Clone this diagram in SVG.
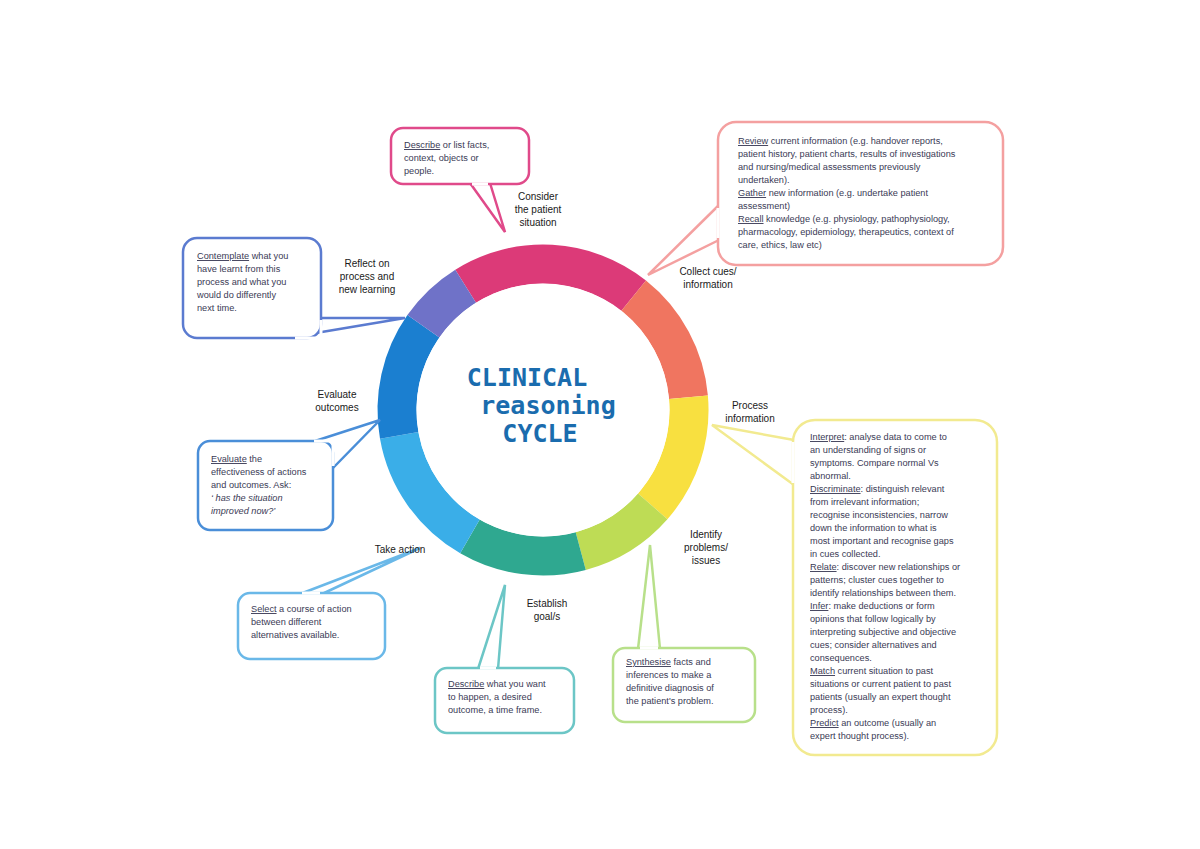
<svg xmlns="http://www.w3.org/2000/svg" width="1200" height="849" viewBox="0 0 1200 849">
<style>
.b{font-family:"Liberation Sans",Arial,sans-serif;font-size:9.2px;fill:#3a3a55}
.l{font-family:"Liberation Sans",Arial,sans-serif;font-size:10px;fill:#1a1a1a;text-anchor:middle}
.u{text-decoration:underline}
.box{fill:#fff;stroke-width:2.5}
.t{font-family:"DejaVu Sans Mono","Liberation Mono",monospace;font-size:25px;fill:#1a6cae;text-anchor:middle;font-weight:bold}
</style>
<rect width="1200" height="849" fill="#fff"/>
<g id="ring" transform="translate(543,410)">
<path d="M-87.7,-140.3 A165.5,165.5 0 0 1 103,-129.5 L78.2,-99 A126.5,126.5 0 0 0 -67,-107.3Z" fill="#dc3a78"/>
<path d="M103,-129.5 A165.5,165.5 0 0 1 164.9,-14.4 L126,-11 A126.5,126.5 0 0 0 78.2,-99Z" fill="#f07560"/>
<path d="M164.9,-14.4 A165.5,165.5 0 0 1 124.4,109.2 L95,83.4 A126.5,126.5 0 0 0 126,-11Z" fill="#f8e040"/>
<path d="M124.4,109.2 A165.5,165.5 0 0 1 42.8,159.9 L32.7,122.2 A126.5,126.5 0 0 0 95,83.4Z" fill="#bedc55"/>
<path d="M42.8,159.9 A165.5,165.5 0 0 1 -82.8,143.3 L-63.3,109.5 A126.5,126.5 0 0 0 32.7,122.2Z" fill="#2fa890"/>
<path d="M-82.8,143.3 A165.5,165.5 0 0 1 -163,28.7 L-124.6,22 A126.5,126.5 0 0 0 -63.3,109.5Z" fill="#3aaee8"/>
<path d="M-163,28.7 A165.5,165.5 0 0 1 -135.6,-94.9 L-103.6,-72.6 A126.5,126.5 0 0 0 -124.6,22Z" fill="#1b7fd0"/>
<path d="M-135.6,-94.9 A165.5,165.5 0 0 1 -87.7,-140.3 L-67,-107.3 A126.5,126.5 0 0 0 -103.6,-72.6Z" fill="#6f72c8"/>
<circle r="126.5" fill="#fff"/>
</g>
<g id="title">
<text class="t" x="527" y="386">CLINICAL</text>
<text class="t" x="548" y="414">reasoning</text>
<text class="t" x="540" y="442">CYCLE</text>
</g>
<g id="connectors" fill="#fff" stroke-width="2.5">
<path d="M470,183 L505,232 L490,183" stroke="#e04a8a"/>
<path d="M719,205 L648,275 L719,240" stroke="#f4a0a0"/>
<path d="M794,440 L712,425 L794,485" stroke="#f2ea90"/>
<path d="M638,649 L650,545 L660,649" stroke="#b8e08a"/>
<path d="M478,669 L505,585 L498,669" stroke="#6cc6c6"/>
<path d="M300,594 L420,548 L322,594" stroke="#6ab8e8"/>
<path d="M312,442 L380,420 L333,468" stroke="#4a8ed8"/>
<path d="M292,337 L405,318 L320,318" stroke="#5b7bd0"/>
</g>
<g id="n1"><rect class="box" x="391" y="128" width="138" height="56" rx="12" stroke="#e04a8a"/><line x1="472" y1="184" x2="488" y2="184" stroke="#fff" stroke-width="3"/>
<text class="b" x="404" y="148"><tspan class="u">Describe</tspan> or list facts,</text><text class="b" x="404" y="161">context, objects or</text><text class="b" x="404" y="174">people.</text>
<text class="l" x="538" y="200">Consider</text><text class="l" x="538" y="213">the patient</text><text class="l" x="538" y="226">situation</text></g>
<g id="n2"><rect class="box" x="718" y="122" width="285" height="143" rx="18" stroke="#f4a0a0"/><line x1="718" y1="208" x2="718" y2="238" stroke="#fff" stroke-width="3"/>
<text class="b" x="738" y="144"><tspan class="u">Review</tspan> current information (e.g. handover reports,</text>
<text class="b" x="738" y="157">patient history, patient charts, results of investigations</text>
<text class="b" x="738" y="170">and nursing/medical assessments previously</text>
<text class="b" x="738" y="183">undertaken).</text>
<text class="b" x="738" y="196"><tspan class="u">Gather</tspan> new information (e.g. undertake patient</text>
<text class="b" x="738" y="209">assessment)</text>
<text class="b" x="738" y="222"><tspan class="u">Recall</tspan> knowledge (e.g. physiology, pathophysiology,</text>
<text class="b" x="738" y="235">pharmacology, epidemiology, therapeutics, context of</text>
<text class="b" x="738" y="248">care, ethics, law etc)</text>
<text class="l" x="708" y="275">Collect cues/</text><text class="l" x="708" y="288">information</text></g>
<g id="n3"><rect class="box" x="793" y="420" width="204" height="335" rx="22" stroke="#f2ea90"/><line x1="793" y1="442" x2="793" y2="483" stroke="#fff" stroke-width="3"/>
<text class="l" x="750" y="409">Process</text><text class="l" x="750" y="422">information</text>
<g class="b"><text x="810" y="440"><tspan class="u">Interpret</tspan>: analyse data to come to</text>
<text x="810" y="453">an understanding of signs or</text>
<text x="810" y="466">symptoms. Compare normal Vs</text>
<text x="810" y="479">abnormal.</text>
<text x="810" y="492"><tspan class="u">Discriminate</tspan>: distinguish relevant</text>
<text x="810" y="505">from irrelevant information;</text>
<text x="810" y="518">recognise inconsistencies, narrow</text>
<text x="810" y="531">down the information to what is</text>
<text x="810" y="544">most important and recognise gaps</text>
<text x="810" y="557">in cues collected.</text>
<text x="810" y="570"><tspan class="u">Relate</tspan>: discover new relationships or</text>
<text x="810" y="583">patterns; cluster cues together to</text>
<text x="810" y="596">identify relationships between them.</text>
<text x="810" y="609"><tspan class="u">Infer</tspan>: make deductions or form</text>
<text x="810" y="622">opinions that follow logically by</text>
<text x="810" y="635">interpreting subjective and objective</text>
<text x="810" y="648">cues; consider alternatives and</text>
<text x="810" y="661">consequences.</text>
<text x="810" y="674"><tspan class="u">Match</tspan> current situation to past</text>
<text x="810" y="687">situations or current patient to past</text>
<text x="810" y="700">patients (usually an expert thought</text>
<text x="810" y="713">process).</text>
<text x="810" y="726"><tspan class="u">Predict</tspan> an outcome (usually an</text>
<text x="810" y="739">expert thought process).</text></g></g>
<g id="n4"><rect class="box" x="613" y="648" width="142" height="74" rx="12" stroke="#b8e08a"/><line x1="640" y1="648" x2="658" y2="648" stroke="#fff" stroke-width="3"/>
<text class="l" x="706" y="538">Identify</text><text class="l" x="706" y="551">problems/</text><text class="l" x="706" y="564">issues</text>
<text class="b" x="626" y="665"><tspan class="u">Synthesise</tspan> facts and</text><text class="b" x="626" y="678">inferences to make a</text><text class="b" x="626" y="691">definitive diagnosis of</text><text class="b" x="626" y="704">the patient's problem.</text></g>
<g id="n5"><rect class="box" x="435" y="668" width="139" height="65" rx="12" stroke="#6cc6c6"/><line x1="480" y1="668" x2="496" y2="668" stroke="#fff" stroke-width="3"/>
<text class="l" x="547" y="607">Establish</text><text class="l" x="547" y="620">goal/s</text>
<text class="b" x="448" y="687"><tspan class="u">Describe</tspan> what you want</text><text class="b" x="448" y="700">to happen, a desired</text><text class="b" x="448" y="713">outcome, a time frame.</text></g>
<g id="n6"><rect class="box" x="238" y="593" width="147" height="66" rx="12" stroke="#6ab8e8"/><line x1="302" y1="593" x2="320" y2="593" stroke="#fff" stroke-width="3"/>
<text class="l" x="400" y="553">Take action</text>
<text class="b" x="251" y="612"><tspan class="u">Select</tspan> a course of action</text><text class="b" x="251" y="625">between different</text><text class="b" x="251" y="638">alternatives available.</text></g>
<g id="n7"><rect class="box" x="198" y="441" width="135" height="89" rx="12" stroke="#4a8ed8"/><line x1="314" y1="441" x2="333" y2="441" stroke="#fff" stroke-width="3"/><line x1="333" y1="444" x2="333" y2="466" stroke="#fff" stroke-width="3"/>
<text class="l" x="337" y="398">Evaluate</text><text class="l" x="337" y="411">outcomes</text>
<text class="b" x="211" y="462"><tspan class="u">Evaluate</tspan> the</text><text class="b" x="211" y="475">effectiveness of actions</text><text class="b" x="211" y="488">and outcomes. Ask:</text>
<text class="b" x="211" y="501" font-style="italic">‘ has the situation</text><text class="b" x="211" y="514" font-style="italic">improved now?’</text></g>
<g id="n8"><rect class="box" x="183" y="238" width="138" height="100" rx="14" stroke="#5b7bd0"/><line x1="295" y1="338" x2="318" y2="338" stroke="#fff" stroke-width="3"/><line x1="321" y1="320" x2="321" y2="335" stroke="#fff" stroke-width="3"/>
<text class="l" x="367" y="267">Reflect on</text><text class="l" x="367" y="280">process and</text><text class="l" x="367" y="293">new learning</text>
<text class="b" x="197" y="259"><tspan class="u">Contemplate</tspan> what you</text><text class="b" x="197" y="272">have learnt from this</text><text class="b" x="197" y="285">process and what you</text><text class="b" x="197" y="298">would do differently</text><text class="b" x="197" y="311">next time.</text></g>
</svg>
